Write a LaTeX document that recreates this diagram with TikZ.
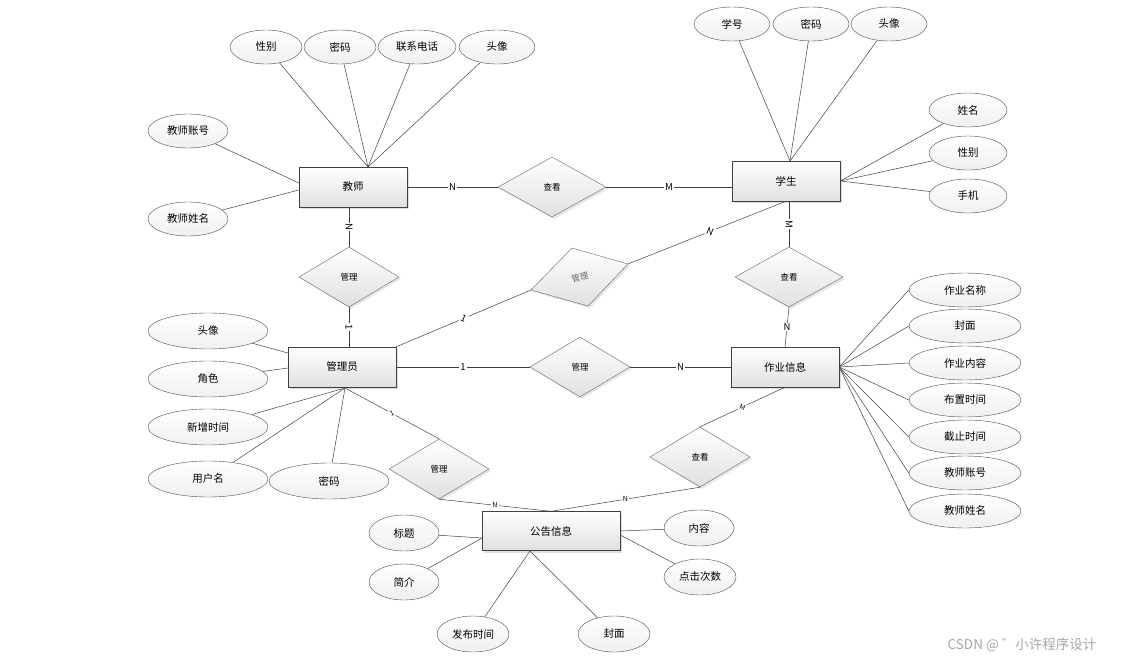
\documentclass[tikz,border=0pt]{standalone}
\usetikzlibrary{shapes.geometric,shadows,backgrounds}
\usepackage{fontspec}
\setmainfont{Noto Sans CJK SC}
\begin{document}
\begin{tikzpicture}[x=1pt,y=-1pt,
  ent/.style={draw=black!75,rectangle,minimum width=108pt,minimum height=40pt,top color=white,bottom color=black!12,drop shadow={opacity=0.25,shadow xshift=2pt,shadow yshift=-2pt},font=\fontsize{10.5}{12}\selectfont},
  rel/.style={draw=black!60,diamond,aspect=1.7,minimum width=100pt,minimum height=60pt,inner sep=0pt,top color=white,bottom color=black!12,drop shadow={opacity=0.2,shadow xshift=2pt,shadow yshift=-2pt},font=\fontsize{8.5}{10}\selectfont},
  att/.style={draw=black!70,ellipse,minimum width=#1,minimum height=34pt,inner sep=0pt,top color=white,bottom color=black!6,font=\fontsize{10.5}{12}\selectfont},
  att/.default=76pt,
  ln/.style={draw=black!75,line width=0.5pt},
  card/.style={fill=white,inner sep=1pt,font=\fontsize{9.5}{10}\selectfont}]
\useasboundingbox (0,0) rectangle (1144,664);
% entities
\node[ent] (js) at (353,187) {教师};
\node[ent] (xs) at (786,181) {学生};
\node[ent] (gly) at (342,367) {管理员};
\node[ent] (zy) at (785,367) {作业信息};
\node[ent,minimum width=138pt,minimum height=39pt] (gg) at (551,531) {公告信息};
% relationships
\node[rel,minimum width=108pt] (r1) at (552,187) {查看};
\node[rel] (r2) at (349,277) {管理};
\node[rel] (r4) at (580,367) {管理};
\node[rel,minimum width=108pt] (r5) at (789,277) {查看};
\node[rel] (r6) at (700,457) {查看};
\node[rel] (r7) at (439,469) {管理};
% skewed diamond
\coordinate (r3l) at (531,290); \coordinate (r3t) at (572,248);
\coordinate (r3r) at (628,264); \coordinate (r3b) at (588,306);
\fill[black!20,opacity=0.5] ([shift={(2,2)}]r3l) -- ([shift={(2,2)}]r3t) -- ([shift={(2,2)}]r3r) -- ([shift={(2,2)}]r3b) -- cycle;
\shade[top color=white,bottom color=black!12,draw=black!60] (r3l) -- (r3t) -- (r3r) -- (r3b) -- cycle;
\node[rotate=15,text=black!60,font=\fontsize{8.5}{10}\selectfont] (r3) at (580,277) {管理};
% relationship lines
\draw[ln] (js.east) -- node[card,pos=0.5]{N} (r1.west);
\draw[ln] (r1.east) -- node[card,pos=0.5]{M} (r1.east -| xs.west);
\draw[ln] (js.south -| r2.north) -- node[card,rotate=-90]{N} (r2.north);
\draw[ln] (r2.south) -- node[card,rotate=-90]{1} (gly.north -| r2.south);
\draw[ln] (gly.north east) -- node[card,rotate=-23]{1} (r3l);
\draw[ln] (r3r) -- node[card,pos=0.52,rotate=-22]{N} (xs.south);
\draw[ln] (gly.east) -- node[card]{1} (r4.west);
\draw[ln] (r4.east) -- node[card]{N} (zy.west);
\draw[ln] (xs.south -| r5.north) -- node[card,rotate=-90]{M} (r5.north);
\draw[ln] (r5.south) -- node[card]{N} (zy.north);
\coordinate (gb) at (345,388);
\draw[ln] (gb) -- node[card,pos=0.5,rotate=28,font=\fontsize{7}{8}\selectfont]{1} (r7.north);
\draw[ln] (r7.south) -- node[card,pos=0.5,font=\fontsize{7}{8}\selectfont]{N} (gg.north);
\draw[ln] (gg.north) -- node[card,pos=0.5,font=\fontsize{7}{8}\selectfont]{N} (r6.south);
\draw[ln] (r6.north) -- node[card,pos=0.5,rotate=-25,font=\fontsize{7}{8}\selectfont]{M} (zy.south);
% teacher attributes
\node[att=72pt] (a1) at (266,47) {性别};
\node[att=72pt] (a2) at (340,47) {密码};
\node[att=78pt] (a3) at (417,47) {联系电话};
\node[att=76pt] (a4) at (497,47) {头像};
\node[att=80pt] (a5) at (188,131) {教师账号};
\node[att=80pt] (a6) at (188,219) {教师姓名};
% student attributes
\node[att] (b1) at (732,24) {学号};
\node[att] (b2) at (811,24) {密码};
\node[att] (b3) at (889,24) {头像};
\node[att=78pt] (b4) at (968,110) {姓名};
\node[att=78pt] (b5) at (968,153) {性别};
\node[att=78pt] (b6) at (968,196) {手机};
% admin attributes
\node[att=120pt,minimum height=36pt] (c1) at (208,331) {头像};
\node[att=120pt,minimum height=36pt] (c2) at (208,379) {角色};
\node[att=120pt,minimum height=36pt] (c3) at (208,427) {新增时间};
\node[att=120pt,minimum height=36pt] (c4) at (208,479) {用户名};
\node[att=120pt,minimum height=36pt] (c5) at (329,481) {密码};
% homework attributes
\foreach \n/\t/\y in {d1/作业名称/290,d2/封面/326,d3/作业内容/363,d4/布置时间/400,d5/截止时间/437,d6/教师账号/473,d7/教师姓名/511}{
  \node[att=112pt] (\n) at (965,\y) {\t};
}
% notice attributes
\node[att=70pt,minimum height=36pt] (e1) at (404,533) {标题};
\node[att=70pt,minimum height=36pt] (e2) at (404,582) {简介};
\node[att=72pt,minimum height=36pt] (e3) at (473,634) {发布时间};
\node[att=72pt,minimum height=36pt] (e4) at (614,634) {封面};
\node[att=70pt,minimum height=36pt] (e5) at (699,528) {内容};
\node[att=72pt,minimum height=36pt] (e6) at (700,577) {点击次数};
\coordinate (jt) at (368,167);
\coordinate (xt) at (790,161);
\coordinate (gl) at (482,538); \coordinate (gbot) at (530,551);
\begin{scope}[on background layer]
\foreach \a in {a1,a2,a3,a4} \draw[ln] (\a) -- (jt);
\draw[ln] (a5) -- (js.west|-0,183);
\draw[ln] (a6) -- (js.west|-0,190);
\foreach \a in {b1,b2,b3} \draw[ln] (\a) -- (xt);
\foreach \a in {b4,b5,b6} \draw[ln] (\a) -- (xs.east);
\draw[ln] (c1) -- (gly.west|-0,353);
\draw[ln] (c2) -- (gly.west|-0,368);
\foreach \a in {c3,c4,c5} \draw[ln] (\a) -- (gb);
\foreach \a in {d1,d2,d3,d4,d5,d6,d7} \draw[ln] (\a.west) -- (zy.east);
\draw[ln] (e1) -- (gl); \draw[ln] (e2) -- (gl);
\draw[ln] (e3) -- (gbot); \draw[ln] (e4) -- (gbot);
\draw[ln] (e5) -- (gg.east); \draw[ln] (e6) -- (gg.east|-0,535);
\end{scope}
% watermark
\node[text=black!35,font=\fontsize{13.5}{15}\selectfont] (wm) at (1022,645) {CSDN @ ゛小许程序设计};
\end{tikzpicture}
\end{document}
